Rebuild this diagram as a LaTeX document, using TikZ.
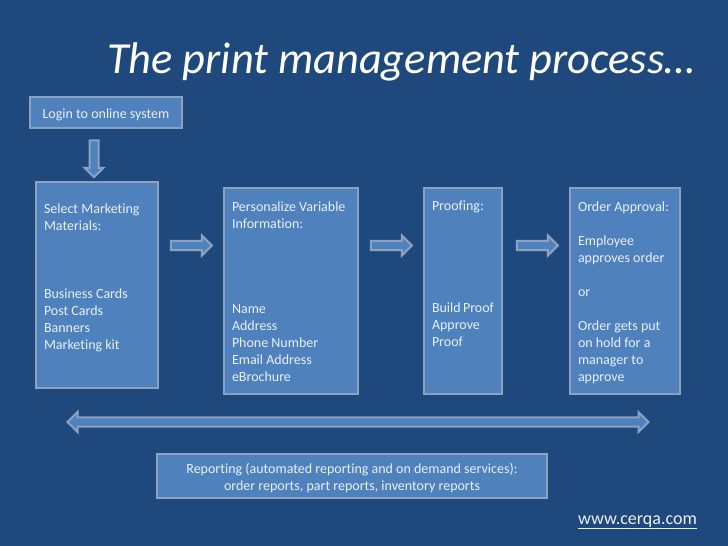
\documentclass[tikz,border=0pt]{standalone}
\usepackage{fontspec}
\setmainfont[Ligatures=NoCommon]{Carlito}
\usetikzlibrary{shapes.arrows}
\definecolor{slidebg}{HTML}{1F497D}
\definecolor{boxfill}{HTML}{4F81BD}
\definecolor{boxline}{HTML}{8DA2BF}
\definecolor{boxtext}{HTML}{E9F0F8}
\newcommand{\textgap}[1]{\rule{0pt}{#1pt}}
\tikzset{
    stage/.style={draw=boxline, fill=boxfill, line width=2pt, text=boxtext, outer sep=0pt,
        font=\fontsize{14}{17}\selectfont, inner xsep=8pt, inner ysep=0pt, align=flush left},
    blockarrow/.style={single arrow, draw=boxline, fill=boxfill, line width=2pt, inner sep=3.5pt,
        minimum width=20pt, single arrow head extend=5pt, single arrow tip angle=90},
}
\begin{document}
\begin{tikzpicture}[x=1pt, y=-1pt]

    % 1. Background of the slide
    \fill[slidebg] (0,0) rectangle (728,546);
    \useasboundingbox (0,0) rectangle (728,546);

    % 2. Title
    \node[anchor=base west, inner sep=0pt, text=white, font=\fontsize{44.4}{52}\selectfont\itshape] (title) at (107,73) {The print management process…};

    % 3. Login box and stages of the process
    \node[stage, minimum width=152pt, minimum height=31pt, align=center] (login) at (106,112.5) {\textgap{14}Login to online system};
    \node[stage, minimum width=122pt, minimum height=206pt, text width=106pt] (select) at (97,285) {Select Marketing\\Materials:\\~\\~\\~\\Business Cards\\Post Cards\\Banners\\Marketing kit\\~};
    \node[stage, minimum width=134pt, minimum height=206pt, text width=118pt] (personalize) at (291,291) {\textgap{12}Personalize Variable\\Information:\\~\\~\\~\\~\\Name\\Address\\Phone Number\\Email Address\\eBrochure};
    \node[stage, minimum width=78pt, minimum height=206pt, text width=62pt] (proofing) at (463,291) {Proofing:\\~\\~\\~\\~\\~\\Build~Proof\\Approve\\Proof\\~\\~};
    \node[stage, minimum width=110pt, minimum height=206pt, text width=94pt] (approval) at (625,291) {\textgap{14}Order Approval:\\~\\Employee\\approves order\\~\\or\\~\\Order gets put\\on hold for a\\manager to\\approve};

    % 4. Block arrows between the boxes
    \node[blockarrow, minimum height=37pt, shape border rotate=270, minimum width=19pt] (arrowdown) at (94,156.5) {};
    \node[blockarrow, minimum height=41pt] (arrowone) at (189,245.5) {};
    \node[blockarrow, minimum height=41pt] (arrowtwo) at (389,245.5) {};
    \node[blockarrow, minimum height=41pt] (arrowthree) at (535,245.5) {};
    \node[double arrow, draw=boxline, fill=boxfill, line width=2pt, inner sep=3.5pt, minimum width=20pt,
        double arrow head extend=5pt, double arrow tip angle=90, minimum height=581pt] (arrowlong) at (358,422) {};

    % 5. Reporting box
    \node[stage, minimum width=390pt, minimum height=44pt, align=center] (reporting) at (352,476) {\textgap{14}Reporting (automated reporting and on demand services):\\order reports, part reports, inventory reports};

    % 6. Web address
    \node[anchor=base west, inner sep=0pt, text=boxtext, font=\fontsize{18}{21}\selectfont] (web) at (578,524) {\underline{www.cerqa.com}};

\end{tikzpicture}
\end{document}
